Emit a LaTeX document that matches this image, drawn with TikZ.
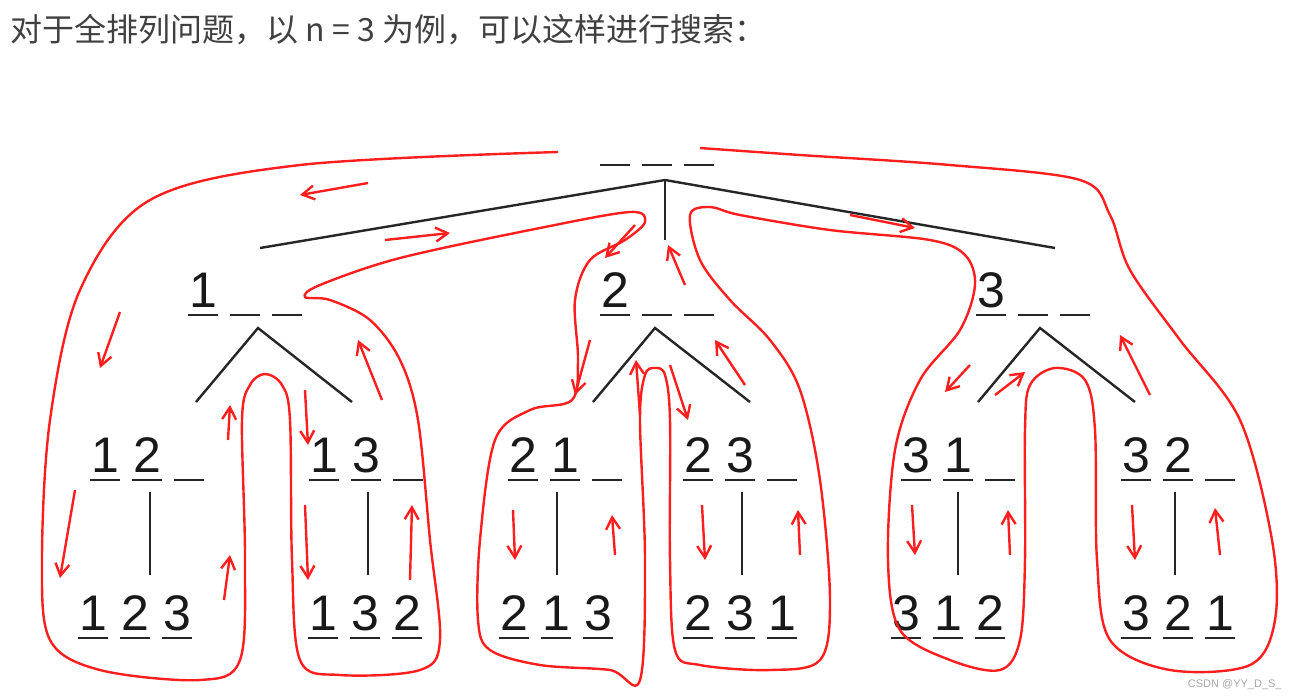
\documentclass[tikz,border=0pt]{standalone}
\usepackage{fontspec}
\setmainfont{Liberation Sans}
\newfontfamily\cjk{Noto Sans CJK SC}
\usetikzlibrary{arrows.meta}
\begin{document}
\begin{tikzpicture}[x=0.5pt,y=-0.5pt,
  blk/.style={line width=1.2pt,black!85},
  red/.style={draw={rgb,255:red,255;green,30;blue,30},line width=1.2pt},
  rar/.style={red,-{Straight Barb[length=6pt,width=7pt]}},
  dig/.style={anchor=base,inner sep=0pt,font=\fontsize{25}{25}\selectfont,text=black!90}]
\useasboundingbox (0,0) rectangle (1292,698);
\node[anchor=west,inner sep=0pt,font=\cjk\fontsize{16}{16}\selectfont,text=black!75] (title) at (10,30) {对于全排列问题，以 n = 3 为例，可以这样进行搜索：};
\node[anchor=south east,inner sep=0pt,font=\fontsize{5.5}{6}\selectfont,text=black!35] (wm) at (1282,690) {CSDN @YY\_D\_S\_};
\newcommand{\slotrow}[5]{%
  \foreach \c [count=\i] in {#3,#4,#5}{
    \pgfmathsetmacro{\xx}{#1+(\i-2)*42}
    \draw[blk] (\xx-15,#2) -- (\xx+15,#2);
    \node[dig] at (\xx,#2-8) {\c};
  }}
\slotrow{657}{165}{}{}{}
\slotrow{245}{315}{1}{}{}
\slotrow{657}{315}{2}{}{}
\slotrow{1033}{315}{3}{}{}
\slotrow{147}{480}{1}{2}{}
\slotrow{366}{480}{1}{3}{}
\slotrow{565}{480}{2}{1}{}
\slotrow{740}{480}{2}{3}{}
\slotrow{958}{480}{3}{1}{}
\slotrow{1178}{480}{3}{2}{}
\slotrow{135}{638}{1}{2}{3}
\slotrow{365}{638}{1}{3}{2}
\slotrow{556}{638}{2}{1}{3}
\slotrow{740}{638}{2}{3}{1}
\slotrow{948}{638}{3}{1}{2}
\slotrow{1178}{638}{3}{2}{1}
\coordinate (r) at (665,180);
\draw[blk] (260,248) -- (r) -- (1055,248); \draw[blk] (r) -- (665,240);
\draw[blk] (196,402) -- (258,328) -- (352,402);
\draw[blk] (593,402) -- (655,328) -- (750,402);
\draw[blk] (978,402) -- (1040,328) -- (1135,402);
\foreach \x in {150,368,557,742,958,1175} \draw[blk] (\x,492) -- (\x,575);
\draw[red] plot[smooth,tension=0.55] coordinates {
(558,152) (300,165) (150,200) (80,290) (50,420) (42,560) (50,640) (100,670) (200,680) (240,660) (245,560) (242,420) (250,385) (265,374) (282,385) (290,420) (292,560) (300,660) (340,675) (420,670) (440,640) (430,540) (418,420) (400,360) (370,320) (330,300) (305,297) (320,285) (400,258) (540,228) (630,212) (645,222) (625,240) (590,260) (575,300) (578,360) (572,400) (530,410) (495,440) (480,540) (478,620) (490,650) (540,665) (610,670) (640,680) (645,560) (640,420) (645,375) (655,368) (665,375) (670,420) (670,560) (675,650) (700,665) (770,670) (820,660) (830,600) (820,480) (800,390) (770,340) (730,300) (700,260) (690,215) (710,207) (740,215) (830,230) (930,240) (965,255) (975,285) (960,330) (920,380) (895,450) (888,560) (900,630) (950,660) (1000,670) (1020,640) (1025,560) (1025,430) (1030,385) (1055,368) (1085,380) (1095,430) (1097,560) (1110,640) (1170,670) (1250,665) (1275,620) (1272,540) (1240,420) (1180,340) (1130,270) (1110,215) (1080,180) (950,165) (800,155) (700,148)};
\foreach \a/\b/\c/\d in {368/183/300/195, 385/240/450/233, 120/312/100/368, 75/490/60/578,
 224/600/230/555, 228/440/230/405, 305/390/308/445, 305/505/308/580, 410/580/412/505,
 382/400/358/340, 635/225/605/258, 685/285/668/245, 590/340/575/395, 640/415/636/360,
 670/365/688/420, 745/385/715/340, 513/510/515/560, 615/555/612/515, 702/505/705/560,
 800/555/798/510, 850/215/915/228, 970/365/945/392, 995/395/1025/372, 1150/395/1120/335,
 912/505/915/555, 1010/555/1008/510, 1132/505/1135/560, 1220/555/1215/508}
 \draw[rar] (\a,\b) -- (\c,\d);
\end{tikzpicture}
\end{document}
